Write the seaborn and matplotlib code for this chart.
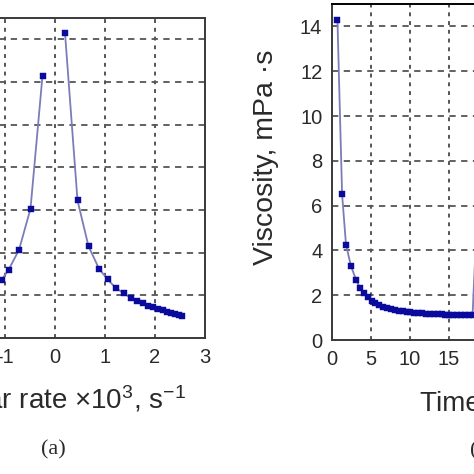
import matplotlib
matplotlib.use("Agg")
import matplotlib.pyplot as plt
import seaborn as sns
import pandas as pd
from matplotlib.ticker import MultipleLocator

# ---- data ----
shear_pos = [0.2, 0.45, 0.67, 0.88, 1.05, 1.21, 1.37, 1.51, 1.63, 1.75, 1.86,
             1.96, 2.06, 2.15, 2.24, 2.32, 2.40, 2.47, 2.53]
visc_pos = [14.3, 6.45, 4.3, 3.25, 2.75, 2.36, 2.10, 1.89, 1.74, 1.62, 1.52,
            1.43, 1.35, 1.29, 1.23, 1.18, 1.13, 1.09, 1.05]
shear_neg = [-0.25, -0.49, -0.72, -0.93, -1.07, -1.25, -1.40, -1.55, -1.68,
             -1.80, -1.91, -2.01, -2.11, -2.20, -2.28, -2.36, -2.44, -2.51]
visc_neg = [12.3, 6.06, 4.13, 3.19, 2.72, 2.36, 2.10, 1.90, 1.75, 1.62, 1.52,
            1.43, 1.35, 1.29, 1.23, 1.18, 1.13, 1.09]

time_s = [0.7, 1.3, 1.8, 2.45, 3.1, 3.6, 4.1, 4.6, 5.1, 5.6, 6.1, 6.6, 7.1,
          7.6, 8.1, 8.6, 9.1, 9.6, 10.1, 10.6, 11.1, 11.6, 12.1, 12.6, 13.1,
          13.6, 14.1, 14.6, 15.1, 15.6, 16.1, 16.6, 17.1, 17.6, 18.1]
visc_t = [14.3, 6.5, 4.26, 3.29, 2.69, 2.32, 2.08, 1.90, 1.76, 1.65, 1.56,
          1.49, 1.43, 1.38, 1.34, 1.31, 1.28, 1.26, 1.24, 1.22, 1.20, 1.19,
          1.18, 1.17, 1.16, 1.15, 1.14, 1.13, 1.13, 1.12, 1.12, 1.12, 1.12,
          1.12, 1.13]
time_jump = [18.1, 19.8]
visc_jump = [1.13, 14.3]

x_ticks_a = [-3, -2, -1, 0, 1, 2, 3]
x_ticks_b = [0, 5, 10, 15, 20, 25, 30]
y_ticks = [0, 2, 4, 6, 8, 10, 12, 14]

# ---- style ----
sns.set_style("white")
plt.rcParams["font.family"] = ["Liberation Sans", "DejaVu Sans"]
plt.rcParams["mathtext.fontset"] = "custom"
plt.rcParams["mathtext.rm"] = "Liberation Sans"
plt.rcParams["mathtext.it"] = "Liberation Sans:italic"
plt.rcParams["axes.unicode_minus"] = False

LINE = "#7c7cb8"
MARK = "#0a0a9c"
GRID = "#555555"
TXT = "#2a2a2a"

fig = plt.figure(figsize=(4.74, 4.74), dpi=100)
fig.patch.set_facecolor("white")
W = 474.0
ax1 = fig.add_axes([-95 / W, (W - 338) / W, 300 / W, 320 / W])
ax2 = fig.add_axes([332 / W, (W - 340) / W, 233 / W, 336 / W])


def style_axes(ax, xmin, xmax, xt, xminor):
    ax.set_xlim(xmin, xmax)
    ax.set_ylim(0, 15)
    ax.set_xticks(xt)
    ax.set_yticks(y_ticks)
    ax.xaxis.set_minor_locator(MultipleLocator(xminor))
    ax.yaxis.set_minor_locator(MultipleLocator(0.5))
    ax.tick_params(which="both", direction="in", colors="#333333",
                   labelsize=14.5, labelcolor=TXT, pad=7)
    ax.tick_params(which="major", length=5, width=1.2)
    ax.tick_params(which="minor", length=2.5, width=1.0)
    ax.xaxis.grid(True, which="major", color=GRID, lw=1.4,
                  linestyle=(0, (2.0, 2.5)))
    ax.yaxis.grid(True, which="major", color=GRID, lw=1.3,
                  linestyle=(0, (3.5, 3.0)))
    ax.set_axisbelow(True)
    for s in ax.spines.values():
        s.set_color("#3a3a3a")
        s.set_linewidth(1.4)
        s.set_visible(True)
    ax.set_ylabel("")


style_axes(ax1, -3, 3, x_ticks_a, 0.2)
style_axes(ax2, 0, 30, x_ticks_b, 1)
ax2.spines["top"].set_color("black")

# ---- panel (a) ----
df_pos = pd.DataFrame({"x": shear_pos, "y": visc_pos})
df_neg = pd.DataFrame({"x": shear_neg, "y": visc_neg})
for d in (df_pos, df_neg):
    sns.lineplot(data=d, x="x", y="y", ax=ax1, color=LINE, lw=1.3,
                 sort=False, estimator=None)
    sns.scatterplot(data=d, x="x", y="y", ax=ax1, marker="s", color=MARK,
                    s=22, edgecolor=MARK, linewidth=0.3, zorder=3)

# ---- panel (b) ----
df_t = pd.DataFrame({"x": time_s, "y": visc_t})
df_j = pd.DataFrame({"x": time_jump, "y": visc_jump})
sns.lineplot(data=df_t, x="x", y="y", ax=ax2, color=LINE, lw=1.3,
             sort=False, estimator=None)
sns.lineplot(data=df_j, x="x", y="y", ax=ax2, color=LINE, lw=1.3,
             sort=False, estimator=None)
sns.scatterplot(data=df_t, x="x", y="y", ax=ax2, marker="s", color=MARK,
                s=24, edgecolor=MARK, linewidth=0.3, zorder=3)

# ---- labels ----
ax1.set_xlabel(r"Shear rate $\times$10$^3$, s$^{-1}$", fontsize=20,
               color=TXT)
ax1.xaxis.label.set_ha("right")
ax1.xaxis.set_label_coords((186 + 95) / 300, (338 - 384) / 320)
ax1.set_ylabel("Viscosity, mPa ·s", fontsize=20, color=TXT)

ax2.set_xlabel("Time, s", fontsize=20, color=TXT)
ax2.xaxis.label.set_ha("left")
ax2.xaxis.set_label_coords((420 - 332) / 233, (340 - 390) / 336)
ax2.set_ylabel("Viscosity, mPa ·s", fontsize=20.5, color=TXT)
ax2.yaxis.label.set_va("center")
ax2.yaxis.label.set_ha("center")
ax2.yaxis.set_label_coords((266 - 332) / 233, (340 - 157) / 336)

fig.text(53 / W, (W - 450) / W, "(a)", ha="center", va="center",
         fontsize=16, color=TXT, family=["Liberation Serif", "DejaVu Serif"])
fig.text(470 / W, (W - 451) / W, "(b)", ha="left", va="center",
         fontsize=16, color=TXT, family=["Liberation Serif", "DejaVu Serif"])

fig.savefig("out.png", dpi=100, facecolor="white")
